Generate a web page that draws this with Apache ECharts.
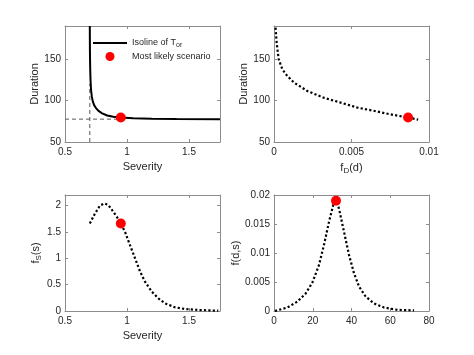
<!DOCTYPE html>
<html>
<head>
<meta charset="utf-8">
<script src="https://cdn.jsdelivr.net/npm/echarts@6/dist/echarts.min.js"></script>
<style>
html,body{margin:0;padding:0;background:#fff;}
#chart{width:474px;height:355px;}
</style>
</head>
<body>
<div id="chart"></div>
<script>
// ---- Data ----
// Panel 1: isoline of T_or (Severity vs Duration)
const isoS = [0.700,0.7005,0.701,0.703,0.706,0.710,0.716,0.724,0.735,0.750,0.770,0.800,0.840,0.890,0.950,1.05,1.20,1.40,1.75];
const isoD = [190,175,160,140,124,113,105,99,94.5,91,87.5,84.6,82.0,80.5,79.5,78.7,78.2,77.9,77.6];
const guideVX = [0.7, 0.7];
const guideVY = [50, 120];
const guideHX = [0.5, 0.95];
const guideHY = [77.6, 77.6];
const likelyS = 0.95;
const likelyD = 79.5;
const likelyFD = 0.00865;
const likelyFS = 1.66;
const likelyDur = 32;
const likelyFDS = 0.019;

// Panel 2: f_D(d) vs Duration
const fdX = [0.0001,0.00017,0.0003,0.00054,0.00086,0.0013,0.00215,0.0032,0.0043,0.0054,0.0065,0.0075,0.00865,0.0093];
const fdY = [188,170,150,137.7,129.7,121.6,111.6,103.5,97.5,91.4,87.4,83.4,79.5,77];

// Panel 3: Severity vs f_S(s)
const fsX = [0.70,0.742,0.782,0.817,0.85,0.89,0.917,0.949,0.984,1.024,1.065,1.105,1.145,1.20,1.253,1.306,1.387,1.468,1.575,1.736];
const fsY = [1.66,1.85,2.00,2.04,2.01,1.88,1.79,1.66,1.50,1.25,1.00,0.75,0.556,0.367,0.24,0.145,0.07,0.038,0.019,0.006];

// Panel 4: f(d,s)
const fdsX = [0.5,2.6,6.9,12,16.3,19.8,23.2,25.8,28.4,30.6,32,33.5,36.1,38.7,41.3,43.9,47.3,51.6,56.8,63.7,72.3];
const fdsY = [0,0.0002,0.0006,0.0016,0.003,0.0049,0.0079,0.0114,0.0154,0.0183,0.0190,0.0177,0.0137,0.0097,0.0065,0.0042,0.0025,0.0013,0.0006,0.0002,0.0001];

// Axis definitions
const xAxesDef = [
  {min:0.5, max:1.75, interval:0.5, name:'Severity', hideMax:true},
  {min:0, max:0.01, interval:0.005, name:'f{sub|D}(d)', hideMax:false},
  {min:0.5, max:1.75, interval:0.5, name:'Severity', hideMax:true},
  {min:0, max:80, interval:20, name:'', hideMax:false}
];
const yAxesDef = [
  {min:50, max:190, interval:50, name:'Duration', gap:19, hideMax:true},
  {min:50, max:190, interval:50, name:'Duration', gap:22, hideMax:true},
  {min:0, max:2.2, interval:0.5, name:'f{sub|S}(s)', gap:20, hideMax:true},
  {min:0, max:0.02, interval:0.005, name:'f(d,s)', gap:28, hideMax:false}
];

const FONT = '"Liberation Sans", Arial, Helvetica, sans-serif';
const TXT = '#262626';
const BOX = '#8c8c8c';
const subRich = {sub:{fontSize:8, fontFamily:FONT, color:TXT, verticalAlign:'bottom', padding:[6,0,0,0]}};

const grids = [
  {left:65, top:26, width:155, height:116},
  {left:274, top:26, width:155, height:116},
  {left:65, top:195, width:155, height:116},
  {left:274, top:195, width:155, height:116}
];

const xAxis = [], yAxis = [];
grids.forEach((g, i) => {
  const xd = xAxesDef[i], yd = yAxesDef[i];
  const common = {
    type:'value', gridIndex:i,
    axisLine:{show:true, onZero:false, lineStyle:{color:BOX, width:1}},
    axisTick:{show:true, inside:true, length:3, lineStyle:{color:BOX}},
    splitLine:{show:false}
  };
  xAxis.push(Object.assign({}, common, {
    position:'bottom', min:xd.min, max:xd.max, interval:xd.interval,
    name:xd.name, nameLocation:'middle', nameGap:19,
    nameTextStyle:{fontFamily:FONT, fontSize:11, color:TXT, rich:subRich},
    axisLabel:{show:true, fontFamily:FONT, fontSize:10, color:TXT, margin:5, showMaxLabel:!xd.hideMax, showMinLabel:true}
  }));
  xAxis.push(Object.assign({}, common, {
    position:'top', min:xd.min, max:xd.max, interval:xd.interval,
    axisLabel:{show:false}
  }));
  yAxis.push(Object.assign({}, common, {
    position:'left', min:yd.min, max:yd.max, interval:yd.interval,
    name:yd.name, nameLocation:'middle', nameGap:yd.gap,
    nameTextStyle:{fontFamily:FONT, fontSize:11, color:TXT, rich:subRich},
    axisLabel:{show:true, fontFamily:FONT, fontSize:10, color:TXT, margin:4, showMaxLabel:!yd.hideMax, showMinLabel:true}
  }));
  yAxis.push(Object.assign({}, common, {
    position:'right', min:yd.min, max:yd.max, interval:yd.interval,
    axisLabel:{show:false}
  }));
});

const pairs = (xs, ys) => xs.map((x, i) => [x, ys[i]]);
const dotted = {color:'#000', width:2.2, type:[2.2,2.2], cap:'butt'};
const red = {color:'#ff0000', opacity:1};

const series = [
  {name:'guideV', type:'line', xAxisIndex:0, yAxisIndex:0, data:pairs(guideVX, guideVY), symbol:'none',
   lineStyle:{color:'#595959', width:1, type:[4,3]}, silent:true, z:1},
  {name:'guideH', type:'line', xAxisIndex:0, yAxisIndex:0, data:pairs(guideHX, guideHY), symbol:'none',
   lineStyle:{color:'#595959', width:1, type:[4,3]}, silent:true, z:1},
  {name:'Isoline of Tor', type:'line', xAxisIndex:0, yAxisIndex:0, data:pairs(isoS, isoD), symbol:'none',
   lineStyle:{color:'#000', width:2}, itemStyle:{color:'#000'}, z:2},
  {name:'Most likely scenario', type:'scatter', xAxisIndex:0, yAxisIndex:0, data:[[likelyS, likelyD]],
   symbol:'circle', symbolSize:10, itemStyle:red, z:3},
  {name:'fD', type:'line', xAxisIndex:2, yAxisIndex:2, data:pairs(fdX, fdY), symbol:'none', lineStyle:dotted, z:2},
  {name:'p2', type:'scatter', xAxisIndex:2, yAxisIndex:2, data:[[likelyFD, likelyD]], symbol:'circle', symbolSize:10, itemStyle:red, z:3},
  {name:'fS', type:'line', xAxisIndex:4, yAxisIndex:4, data:pairs(fsX, fsY), symbol:'none', lineStyle:dotted, z:2},
  {name:'p3', type:'scatter', xAxisIndex:4, yAxisIndex:4, data:[[likelyS, likelyFS]], symbol:'circle', symbolSize:10, itemStyle:red, z:3},
  {name:'fDS', type:'line', xAxisIndex:6, yAxisIndex:6, data:pairs(fdsX, fdsY), symbol:'none', lineStyle:dotted, z:2},
  {name:'p4', type:'scatter', xAxisIndex:6, yAxisIndex:6, data:[[likelyDur, likelyFDS]], symbol:'circle', symbolSize:10, itemStyle:red, z:3}
];

const chart = echarts.init(document.getElementById('chart'), null, {renderer:'canvas'});
chart.setOption({
  animation:false,
  backgroundColor:'#ffffff',
  grid:grids,
  xAxis:xAxis,
  yAxis:yAxis,
  legend:{
    data:[
      {name:'Isoline of Tor', icon:'path://M0,0 L34,0 L34,2 L0,2 Z', itemStyle:{color:'#000'}},
      {name:'Most likely scenario', icon:'circle', itemStyle:{color:'#ff0000', opacity:1}}
    ],
    orient:'vertical', left:93, top:38.5, padding:0,
    itemWidth:34, itemHeight:9, itemGap:3, itemTextGap:3,
    selectedMode:false,
    formatter:(n) => n === 'Isoline of Tor' ? 'Isoline of T{sub|or}' : n,
    textStyle:{fontFamily:FONT, fontSize:9, color:TXT, rich:{sub:{fontSize:7, fontFamily:FONT, color:TXT, verticalAlign:'bottom', padding:[5,0,0,0]}}}
  },
  series:series
});
</script>
</body>
</html>
